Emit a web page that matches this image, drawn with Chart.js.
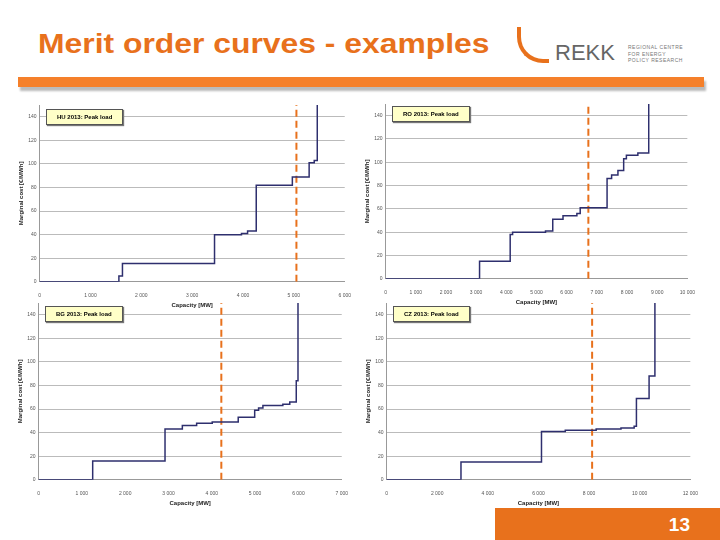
<!DOCTYPE html>
<html>
<head>
<meta charset="utf-8">
<script src="https://cdn.jsdelivr.net/npm/chart.js@4"></script>
<style>
  body { margin: 0; width: 720px; height: 540px; background: #fff; position: relative; overflow: hidden; font-family: "Liberation Sans", Arial, sans-serif; }
  #title { position: absolute; left: 38px; top: 29px; font-size: 27px; font-weight: bold; color: #e8711c; transform: scaleX(1.18); transform-origin: left; }
  #bar { position: absolute; left: 18px; top: 77px; width: 686px; height: 10px; background: #f5802a; box-shadow: 2px 4px 2px #bbb; }
  #logo { position: absolute; left: 515px; top: 25px; width: 190px; height: 45px; }
  #logo .rekk { position: absolute; left: 40px; top: 15px; font-size: 22px; color: #666; letter-spacing: 0px; }
  #logo .sub { position: absolute; left: 113px; top: 19px; font-size: 5px; line-height: 6.5px; color: #777; letter-spacing: 0.5px; }
  #logo .swoosh { position: absolute; left: 2px; top: 2px; width: 32px; height: 36px; border-radius: 0 0 0 26px; border-left: 4px solid #e8711c; border-bottom: 4px solid #e8711c; box-sizing: border-box; }
  .panel { position: absolute; }
  .lbl { position: absolute; background: #ffffc8; border: 1px solid #555; box-shadow: 1px 1px 1px #777; font-size: 6px; font-weight: bold; padding: 4px 10px; white-space: nowrap; }
  #foot { position: absolute; left: 495px; top: 508px; width: 225px; height: 32px; background: #e8711c; }
  #foot span { position: absolute; right: 30px; top: 6px; color: #fff; font-size: 19px; font-weight: bold; }
</style>
</head>
<body>
<div id="title">Merit order curves - examples</div>
<div id="logo"><div class="swoosh"></div><div class="rekk">REKK</div><div class="sub">REGIONAL CENTRE<br>FOR ENERGY<br>POLICY RESEARCH</div></div>
<div id="bar"></div>

<div class="panel" style="left:18px;top:99px"><canvas id="hu"></canvas><div class="lbl" style="left:28px;top:10px">HU 2013: Peak load</div></div>
<div class="panel" style="left:364px;top:98px"><canvas id="ro"></canvas><div class="lbl" style="left:28px;top:8px">RO 2013: Peak load</div></div>
<div class="panel" style="left:17px;top:297px"><canvas id="bg"></canvas><div class="lbl" style="left:28px;top:9px">BG 2013: Peak load</div></div>
<div class="panel" style="left:365px;top:297px"><canvas id="cz"></canvas><div class="lbl" style="left:28px;top:9px">CZ 2013: Peak load</div></div>

<div id="foot"><span>13</span></div>

<script>
// merit order steps: capacity [MW] and marginal cost [EUR/MWh]
const huCap  = [0, 1560, 1630, 3440, 3970, 4090, 4260, 4970, 5300, 5400, 5460, 6000];
const huCost = [0, 5, 15.5, 40, 41, 43, 82, 89, 101, 103, 200, 200];
const huPeak = 5050;

const roCap  = [0, 3115, 4130, 4210, 5300, 5540, 5880, 6340, 6450, 7340, 7490, 7700, 7890, 7980, 8360, 8720, 10000];
const roCost = [0, 15, 38, 40, 41, 51, 54, 56, 61, 86, 89, 93, 103, 106, 108, 200, 200];
const roPeak = 6720;

const bgCap  = [0, 1250, 2920, 3320, 3650, 4010, 4610, 4990, 5080, 5180, 5640, 5800, 5950, 5990, 7000];
const bgCost = [0, 16, 43, 46, 48, 49, 53, 59, 61, 63, 64, 66, 84, 200, 200];
const bgPeak = 4220;

const czCap  = [0, 2940, 6120, 7060, 8280, 9260, 9780, 9870, 10370, 10600, 12000];
const czCost = [0, 15, 41, 42, 43, 44, 45.5, 69, 88, 200, 200];
const czPeak = 8120;

const yTicks = [0, 20, 40, 60, 80, 100, 120, 140];

function fmt(v) {
  return v >= 1000 ? Math.floor(v / 1000) + ' ' + String(v % 1000).padStart(3, '0') : String(v);
}

function makeChart(id, cap, cost, peak, xMax, xStep, w, h) {
  const c = document.getElementById(id);
  c.width = w; c.height = h;
  const tickFont = { size: 5, family: 'Liberation Sans' };
  new Chart(c, {
    type: 'line',
    data: {
      datasets: [{
        data: cap.map((x, i) => ({ x: x, y: cost[i] })),
        borderColor: '#2e2f6e',
        borderWidth: 1.5,
        stepped: 'before',
        pointRadius: 0
      }, {
        data: [{ x: peak, y: 0 }, { x: peak, y: 150 }],
        borderColor: '#e8711c',
        borderWidth: 2,
        borderDash: [7, 4],
        pointRadius: 0
      }]
    },
    options: {
      responsive: false,
      animation: false,
      plugins: { legend: { display: false }, tooltip: { enabled: false } },
      layout: { padding: { right: 6, top: 2 } },
      scales: {
        x: {
          type: 'linear', min: 0, max: xMax,
          ticks: { stepSize: xStep, font: tickFont, color: '#555', callback: fmt, maxRotation: 0 },
          grid: { display: false },
          border: { color: '#999' },
          title: { display: true, text: 'Capacity [MW]', font: { size: 6, weight: 'bold' }, color: '#222', padding: 0 }
        },
        y: {
          min: 0, max: 150,
          afterBuildTicks: ax => { ax.ticks = yTicks.map(v => ({ value: v })); },
          ticks: { font: tickFont, color: '#555' },
          grid: { color: '#bbb', drawTicks: false },
          border: { color: '#999' },
          title: { display: true, text: 'Marginal cost [€/MWh]', font: { size: 6, weight: 'bold' }, color: '#222', padding: 0 }
        }
      }
    }
  });
}

makeChart('hu', huCap, huCost, huPeak, 6000, 1000, 336, 210);
makeChart('ro', roCap, roCost, roPeak, 10000, 1000, 334, 208);
makeChart('bg', bgCap, bgCost, bgPeak, 7000, 1000, 334, 210);
makeChart('cz', czCap, czCost, czPeak, 12000, 2000, 336, 210);
</script>
</body>
</html>
